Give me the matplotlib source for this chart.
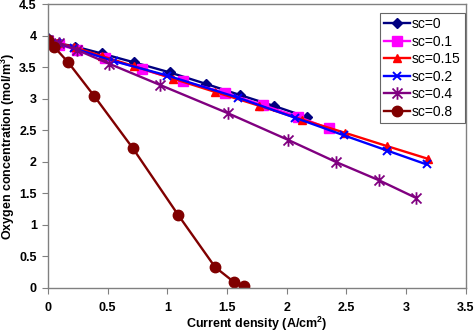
import matplotlib
matplotlib.use("Agg")
import matplotlib.pyplot as plt
from matplotlib.path import Path

plt.rcParams['font.family'] = ['Liberation Sans', 'DejaVu Sans']
plt.rcParams['mathtext.fontset'] = 'custom'
plt.rcParams['mathtext.rm'] = 'Liberation Sans:bold'
plt.rcParams['mathtext.default'] = 'rm'

labels = ["sc=0", "sc=0.1", "sc=0.15", "sc=0.2", "sc=0.4", "sc=0.8"]

x_sc0 = [0, 0.09, 0.23, 0.45, 0.72, 1.02, 1.32, 1.61, 1.89, 2.17]
y_sc0 = [3.96, 3.88, 3.83, 3.72, 3.58, 3.42, 3.24, 3.06, 2.89, 2.71]

x_sc01 = [0, 0.09, 0.24, 0.48, 0.79, 1.13, 1.48, 1.80, 2.09, 2.35]
y_sc01 = [3.92, 3.86, 3.78, 3.65, 3.47, 3.28, 3.10, 2.90, 2.72, 2.53]

x_sc015 = [0, 0.08, 0.22, 0.45, 0.72, 1.05, 1.40, 1.77, 2.13, 2.49, 2.84, 3.18]
y_sc015 = [3.95, 3.89, 3.82, 3.68, 3.52, 3.32, 3.11, 2.89, 2.67, 2.46, 2.25, 2.05]

x_sc02 = [0, 0.08, 0.22, 0.55, 1.00, 1.59, 2.07, 2.48, 2.84, 3.17]
y_sc02 = [3.94, 3.88, 3.80, 3.60, 3.37, 3.02, 2.70, 2.42, 2.18, 1.96]

x_sc04 = [0, 0.09, 0.24, 0.51, 0.94, 1.51, 2.01, 2.41, 2.77, 3.08]
y_sc04 = [3.93, 3.89, 3.78, 3.56, 3.22, 2.77, 2.35, 2.00, 1.71, 1.43]

x_sc08 = [0, 0.05, 0.17, 0.39, 0.71, 1.09, 1.40, 1.56, 1.64]
y_sc08 = [3.93, 3.83, 3.58, 3.04, 2.22, 1.16, 0.33, 0.09, 0.03]

xticks = [0, 0.5, 1, 1.5, 2, 2.5, 3, 3.5]
xticklabels = ["0", "0.5", "1", "1.5", "2", "2.5", "3", "3.5"]
yticks = [0, 0.5, 1, 1.5, 2, 2.5, 3, 3.5, 4, 4.5]
yticklabels = ["0", "0.5", "1", "1.5", "2", "2.5", "3", "3.5", "4", "4.5"]

# asterisk marker (Excel-style star)
star = Path([(0, -1), (0, 1), (-0.8, -0.8), (0.8, 0.8), (-0.8, 0.8), (0.8, -0.8)],
            [Path.MOVETO, Path.LINETO, Path.MOVETO, Path.LINETO, Path.MOVETO, Path.LINETO])

fig = plt.figure(figsize=(4.74, 3.34), dpi=100)
ax = fig.add_axes([0.101, 0.138, 0.882, 0.849])

lw = 1.7
ax.plot(x_sc0, y_sc0, color='#000080', marker='D', ms=5.5, lw=lw, label=labels[0])
ax.plot(x_sc01, y_sc01, color='#FF00FF', marker='s', ms=6.5, lw=lw, label=labels[1])
ax.plot(x_sc015, y_sc015, color='#FF0000', marker='^', ms=5.5, lw=lw, label=labels[2])
ax.plot(x_sc02, y_sc02, color='#0000FF', marker='x', ms=5.5, mew=1.4, lw=lw, label=labels[3])
ax.plot(x_sc04, y_sc04, color='#800080', marker=star, ms=9, mew=1.3, lw=lw, label=labels[4])
ax.plot(x_sc08, y_sc08, color='#800000', marker='o', ms=7.5, lw=lw, label=labels[5])

ax.set_xlim(0, 3.5)
ax.set_ylim(0, 4.5)
ax.set_xticks(xticks)
ax.set_xticklabels(xticklabels, fontsize=9, fontweight='bold')
ax.set_yticks(yticks)
ax.set_yticklabels(yticklabels, fontsize=9, fontweight='bold')
ax.tick_params(axis='x', direction='out', length=4, color='#808080', pad=6)
ax.tick_params(axis='y', direction='out', length=4, color='#808080', pad=4)

for s in ax.spines.values():
    s.set_color('#808080')
    s.set_linewidth(1.0)

ax.set_xlabel('Current density (A/cm$^2$)', fontsize=9, fontweight='bold')
ax.set_ylabel('Oxygen concentration (mol/m$^3$)', fontsize=9, fontweight='bold')
ax.xaxis.set_label_coords(0.5, -0.095)
ax.yaxis.set_label_coords(-0.073, 0.5)

leg = ax.legend(loc='upper right', bbox_to_anchor=(1.0, 0.974), fontsize=10, frameon=True,
                fancybox=False, edgecolor='#404040', handlelength=1.9, handletextpad=0.1,
                borderpad=0.3, labelspacing=0.25, borderaxespad=0.1)
leg.get_frame().set_linewidth(0.8)

fig.savefig('out.png', dpi=100)
